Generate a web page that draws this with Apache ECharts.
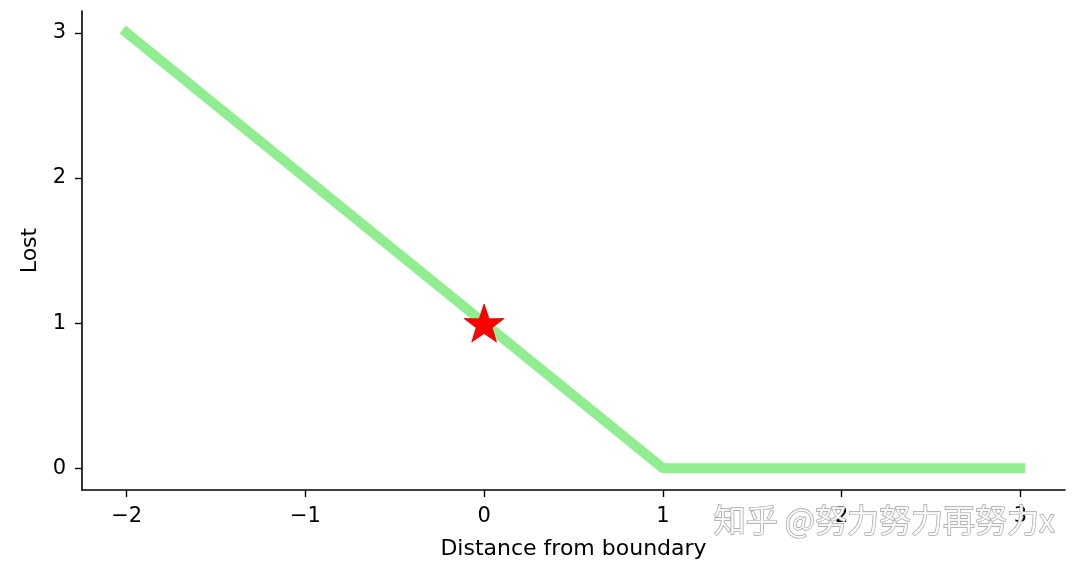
<!DOCTYPE html>
<html>
<head>
    <meta charset="utf-8">
    <title>Hinge loss</title>
    <script src="https://cdn.jsdelivr.net/npm/echarts@6/dist/echarts.min.js"></script>
    <style type="text/css">
        html, body { margin: 0; padding: 0; background: #fff; }
        #main { width: 1080px; height: 569px; }
    </style>
</head>
<body>
    <div id="main"></div>
    <script type="text/javascript">
        // hinge loss curve
        var lossX = [-2, 1, 3];
        var lossY = [3, 0, 0];
        var starPoint = [0, 1];
        var xTicks = [-2, -1, 0, 1, 2, 3];
        var yTicks = [0, 1, 2, 3];

        var font = 'DejaVu Sans';
        var starPath = 'path://M50,0 L61.8,35.1 L97.6,34.5 L69,56.3 L79.4,90.5 L50,70 L20.6,90.5 L31,56.3 L2.4,34.5 L38.2,35.1 Z';

        function fmt(v) {
            return v < 0 ? '\u2212' + Math.abs(v) : String(v);
        }

        var chart = echarts.init(document.getElementById('main'));
        var option = {
            backgroundColor: '#ffffff',
            animation: false,
            grid: { left: 82, right: 15, top: 11, bottom: 79 },
            xAxis: {
                type: 'value',
                min: -2.25,
                max: 3.25,
                name: 'Distance from boundary',
                nameLocation: 'middle',
                nameGap: 48,
                nameTextStyle: { fontFamily: font, fontSize: 22, color: '#000' },
                axisLine: { onZero: false, lineStyle: { color: '#000', width: 1.6 } },
                axisTick: {
                    show: true, length: 7, inside: false,
                    customValues: xTicks,
                    lineStyle: { color: '#000', width: 1.4 }
                },
                axisLabel: {
                    customValues: xTicks,
                    margin: 16,
                    fontFamily: font, fontSize: 21, color: '#000',
                    formatter: fmt
                },
                splitLine: { show: false }
            },
            yAxis: {
                type: 'value',
                min: -0.15,
                max: 3.15,
                name: 'Lost',
                nameLocation: 'middle',
                nameGap: 35,
                nameRotate: 90,
                nameTextStyle: { fontFamily: font, fontSize: 22, color: '#000' },
                axisLine: { show: true, onZero: false, lineStyle: { color: '#000', width: 1.6 } },
                axisTick: {
                    show: true, length: 7, inside: false,
                    customValues: yTicks,
                    lineStyle: { color: '#000', width: 1.4 }
                },
                axisLabel: {
                    customValues: yTicks,
                    margin: 16,
                    fontFamily: font, fontSize: 21, color: '#000',
                    formatter: fmt
                },
                splitLine: { show: false }
            },
            series: [
                {
                    type: 'line',
                    data: lossX.map(function (x, i) { return [x, lossY[i]]; }),
                    showSymbol: false,
                    lineStyle: { color: '#90ee90', width: 10, cap: 'square', join: 'round' },
                    z: 2
                },
                {
                    type: 'scatter',
                    data: [starPoint],
                    symbol: starPath,
                    symbolSize: [40, 38],
                    itemStyle: { color: '#ff0000', borderColor: '#e00000', borderWidth: 0.8, opacity: 1 },
                    z: 3
                }
            ],
            graphic: [
                {
                    type: 'text',
                    left: 713,
                    top: 503,
                    style: {
                        text: '知乎 @努力努力再努力x',
                        font: '32px "Noto Sans CJK SC"',
                        fill: 'rgba(255,255,255,0.85)',
                        stroke: '#a0a0a0',
                        lineWidth: 1.3
                    },
                    z: 10
                }
            ]
        };
        chart.setOption(option);
    </script>
</body>
</html>
